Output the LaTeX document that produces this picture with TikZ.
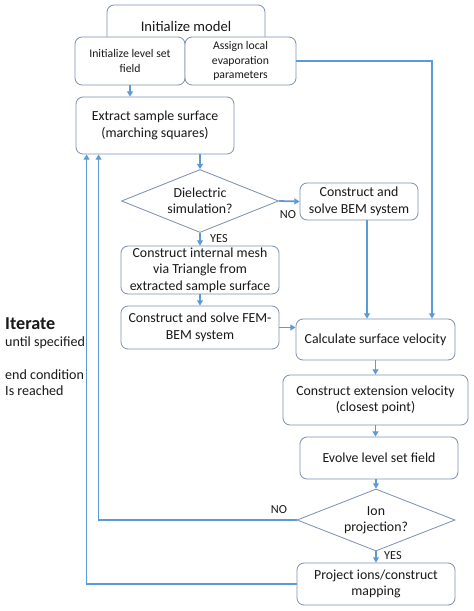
\documentclass[tikz,border=0pt]{standalone}
\usepackage{fontspec}
\setmainfont{Carlito}
\usetikzlibrary{shapes.geometric,arrows.meta,calc}

\definecolor{flowblue}{RGB}{91,155,213}
\definecolor{boxline}{RGB}{125,145,175}
\definecolor{txt}{RGB}{25,25,25}

\tikzset{
  stepbox/.style={draw=boxline, line width=0.7pt, rounded corners=6pt, fill=white,
    align=center, inner sep=1pt, text=txt, font=\fontsize{11.8}{14}\selectfont},
  smallbox/.style={stepbox, font=\fontsize{10}{12.5}\selectfont},
  decision/.style={draw=boxline, line width=0.7pt, diamond, aspect=2.5, inner sep=0pt,
    align=center, text=txt, font=\fontsize{11.8}{14}\selectfont},
  flow/.style={draw=flowblue, line width=1.5pt},
  arr/.style={flow, -{Triangle[length=4.5pt,width=5pt]}},
  lbl/.style={text=txt, font=\fontsize{10.5}{12}\selectfont, inner sep=0pt},
  note/.style={text=txt, anchor=base west, inner sep=0pt, font=\fontsize{12}{14}\selectfont}
}

\begin{document}
\begin{tikzpicture}[x=0.03cm, y=-0.03cm]
        \useasboundingbox (0,0) rectangle (474,611);

        % Initialisation boxes
        \node[stepbox, minimum width=4.74cm, minimum height=1.32cm, anchor=center] (init) at (186,27) {};
        \node[text=txt, anchor=base, inner sep=0pt, font=\fontsize{12.5}{14}\selectfont] (inittext) at (186,31) {Initialize model};
        \node[smallbox, minimum width=3.3cm, minimum height=1.44cm] (lvl) at (130,61) {Initialize level set\\field};
        \node[smallbox, minimum width=3.33cm, minimum height=1.44cm] (asg) at (240.5,61) {Assign local\\evaporation\\parameters};

        % Surface extraction and decision
        \node[stepbox, minimum width=4.74cm, minimum height=1.71cm] (extract) at (155,125.5) {Extract sample surface\\(marching squares)};
        \node[decision, minimum width=4.71cm, minimum height=1.89cm] (diel) at (200,201) {Dielectric\\simulation?};
        \node[stepbox, minimum width=3.54cm, minimum height=1.11cm] (bem) at (359,201.5) {Construct and\\solve BEM system};

        % FEM-BEM branch
        \node[stepbox, minimum width=4.74cm, minimum height=1.44cm] (mesh) at (200,270) {Construct internal mesh\\via Triangle from\\extracted sample surface};
        \node[stepbox, minimum width=4.74cm, minimum height=1.29cm] (fem) at (200,327.5) {Construct and solve FEM-\\BEM system};

        % Velocity and level set update
        \node[stepbox, minimum width=4.77cm, minimum height=1.23cm] (calc) at (375.5,339.5) {Calculate surface velocity};
        \node[stepbox, minimum width=5.55cm, minimum height=1.5cm] (ext) at (375.5,400) {Construct extension velocity\\(closest point)};
        \node[stepbox, minimum width=4.74cm, minimum height=1.26cm] (evolve) at (379,458) {Evolve level set field};
        \node[decision, minimum width=4.74cm, minimum height=1.86cm] (ion) at (376,520) {Ion\\projection?};
        \node[stepbox, minimum width=4.74cm, minimum height=1.26cm] (proj) at (376,584) {Project ions/construct\\mapping};

        % Connectors
        \draw[arr] (lvl.south) -- (lvl.south |- extract.north);
        \draw[arr] (extract.south -| diel.north) -- (diel.north);
        \draw[arr] (diel.east) -- (bem.west);
        \draw[arr] (diel.south) -- (mesh.north);
        \draw[arr] (mesh.south) -- (fem.north);
        \draw[arr] (fem.east) -- (fem.east -| calc.west);
        \draw[arr] ([xshift=0.24cm]bem.south) -- ([xshift=0.24cm]bem.south |- calc.north);
        \draw[arr] (asg.east) -| ([xshift=1.695cm]calc.north);
        \draw[arr] (calc.south) -- (calc.south |- ext.north);
        \draw[arr] (ext.south) -- (ext.south |- evolve.north);
        \draw[arr] (evolve.south -| ion.north) -- (ion.north);
        \draw[arr] (ion.south) -- (ion.south |- proj.north);

        % Iteration loops
        \draw[arr] (ion.west) -| ([xshift=0.69cm]extract.south west);
        \draw[arr] (proj.west) -| ([xshift=0.33cm]extract.south west);

        % Labels
        \node[lbl] (dielno) at (288,215) {NO};
        \node[lbl] (dielyes) at (219,239) {YES};
        \node[lbl] (ionno) at (279,510) {NO};
        \node[lbl] (ionyes) at (393,556) {YES};

        % Iterate note
        \node[note, font=\fontsize{15.5}{18}\selectfont\bfseries] (iter) at (5,329) {Iterate};
        \node[note] (until) at (5,346) {until specified};
        \node[note] (endcond) at (5,379) {end condition};
        \node[note] (reached) at (5,395) {Is reached};
    \end{tikzpicture}
\end{document}
